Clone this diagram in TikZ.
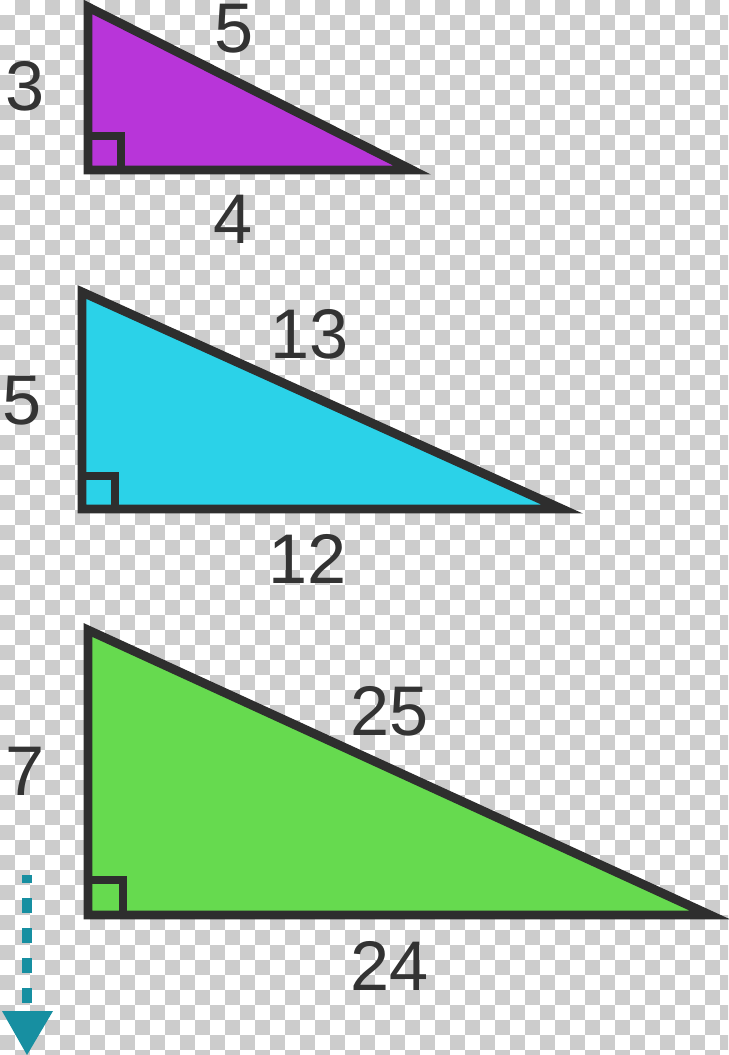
\documentclass[tikz,border=0pt]{standalone}
\usepackage{fontspec}
\setmainfont{Liberation Sans}
\definecolor{checkgray}{HTML}{CCCCCC}
\definecolor{edgegray}{HTML}{2E2E2E}
\definecolor{triviolet}{HTML}{B835D9}
\definecolor{tricyan}{HTML}{2BD2E8}
\definecolor{trigreen}{HTML}{66DA4F}
\definecolor{arrowteal}{HTML}{178FA1}
\definecolor{labelgray}{HTML}{333333}
\tikzset{
  tri/.style={draw=edgegray, line width=5.1pt, line join=miter, miter limit=20},
  sidelabel/.style={text=labelgray, font=\fontsize{40}{48}\selectfont, inner sep=0pt},
}
\begin{document}
\begin{tikzpicture}[x=0.02cm,y=-0.02cm]
  \useasboundingbox (0,0) rectangle (728,1055);

  % Checkered background
  \begin{scope}
    \clip (0,0) rectangle (728,1055);
    \fill[white] (0,0) rectangle (728,1055);
    \foreach \i in {0,...,48} {
      \foreach \j in {0,...,70} {
        \pgfmathtruncatemacro{\odd}{mod(\i+\j,2)}
        \ifnum\odd=1
          \fill[checkgray] (15*\i,15*\j) rectangle ++(15,15); % Grey cell
        \fi
      }
    }
  \end{scope}

  % Triangle 3-4-5
  \coordinate (A1) at (88,7);
  \coordinate (B1) at (88,170);
  \coordinate (C1) at (412,170);
  \filldraw[tri, fill=triviolet] (A1) -- (B1) -- (C1) -- cycle;
  \draw[tri] (B1) rectangle ++(33,-34); % Right angle

  % Triangle 5-12-13
  \coordinate (A2) at (82,292);
  \coordinate (B2) at (82,509);
  \coordinate (C2) at (562,509);
  \filldraw[tri, fill=tricyan] (A2) -- (B2) -- (C2) -- cycle;
  \draw[tri] (B2) rectangle ++(33,-33); % Right angle

  % Triangle 7-24-25
  \coordinate (A3) at (88,630);
  \coordinate (B3) at (88,915);
  \coordinate (C3) at (710,915);
  \filldraw[tri, fill=trigreen] (A3) -- (B3) -- (C3) -- cycle;
  \draw[tri] (B3) rectangle ++(35,-35); % Right angle

  % Label sides
  \node[sidelabel] (hypA) at (234,29) {5};
  \node[sidelabel] (legA) at (25,86) {3};
  \node[sidelabel] (baseA) at (233,219) {4};
  \node[sidelabel] (hypB) at (310,334) {13};
  \node[sidelabel] (legB) at (22,401) {5};
  \node[sidelabel] (baseB) at (308,559) {12};
  \node[sidelabel] (hypC) at (390,711) {25};
  \node[sidelabel] (legC) at (25,771) {7};
  \node[sidelabel] (baseC) at (390,966) {24};

  % Dashed arrow
  \coordinate (arrowtop) at (27,875);
  \coordinate (arrowend) at (27,1003);
  \coordinate (headL) at (2,1011);
  \coordinate (headR) at (53,1011);
  \coordinate (headtip) at (27,1055);
  \draw[arrowteal, line width=5.4pt, dash pattern=on 8.54pt off 8.54pt, dash phase=4pt]
    (arrowtop) -- (arrowend);
  \fill[arrowteal] (headL) -- (headR) -- (headtip) -- cycle;

\end{tikzpicture}
\end{document}
